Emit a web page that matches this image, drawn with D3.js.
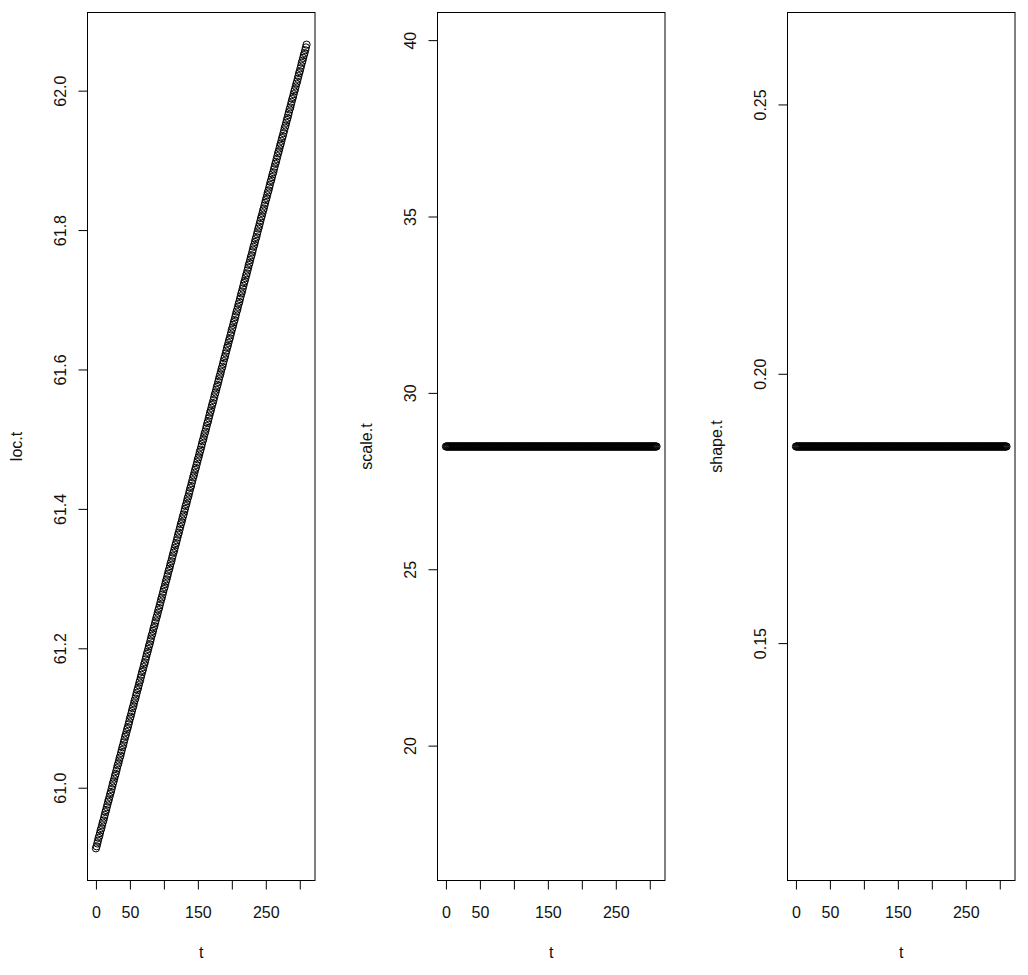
<!DOCTYPE html>
<html>
<head>
<meta charset="utf-8">
<script src="https://cdn.jsdelivr.net/npm/d3@7/dist/d3.min.js"></script>
<style>
  body { margin: 0; background: #fff; }
  svg text { font-family: "Liberation Sans", Arial, sans-serif; fill: #111; }
</style>
</head>
<body>
<div id="chart"></div>
<script>
// time index
const tValues = [
  0, 1, 2, 3, 4, 5, 6, 7, 8, 9,
  10, 11, 12, 13, 14, 15, 16, 17, 18, 19,
  20, 21, 22, 23, 24, 25, 26, 27, 28, 29,
  30, 31, 32, 33, 34, 35, 36, 37, 38, 39,
  40, 41, 42, 43, 44, 45, 46, 47, 48, 49,
  50, 51, 52, 53, 54, 55, 56, 57, 58, 59,
  60, 61, 62, 63, 64, 65, 66, 67, 68, 69,
  70, 71, 72, 73, 74, 75, 76, 77, 78, 79,
  80, 81, 82, 83, 84, 85, 86, 87, 88, 89,
  90, 91, 92, 93, 94, 95, 96, 97, 98, 99,
  100, 101, 102, 103, 104, 105, 106, 107, 108, 109,
  110, 111, 112, 113, 114, 115, 116, 117, 118, 119,
  120, 121, 122, 123, 124, 125, 126, 127, 128, 129,
  130, 131, 132, 133, 134, 135, 136, 137, 138, 139,
  140, 141, 142, 143, 144, 145, 146, 147, 148, 149,
  150, 151, 152, 153, 154, 155, 156, 157, 158, 159,
  160, 161, 162, 163, 164, 165, 166, 167, 168, 169,
  170, 171, 172, 173, 174, 175, 176, 177, 178, 179,
  180, 181, 182, 183, 184, 185, 186, 187, 188, 189,
  190, 191, 192, 193, 194, 195, 196, 197, 198, 199,
  200, 201, 202, 203, 204, 205, 206, 207, 208, 209,
  210, 211, 212, 213, 214, 215, 216, 217, 218, 219,
  220, 221, 222, 223, 224, 225, 226, 227, 228, 229,
  230, 231, 232, 233, 234, 235, 236, 237, 238, 239,
  240, 241, 242, 243, 244, 245, 246, 247, 248, 249,
  250, 251, 252, 253, 254, 255, 256, 257, 258, 259,
  260, 261, 262, 263, 264, 265, 266, 267, 268, 269,
  270, 271, 272, 273, 274, 275, 276, 277, 278, 279,
  280, 281, 282, 283, 284, 285, 286, 287, 288, 289,
  290, 291, 292, 293, 294, 295, 296, 297, 298, 299,
  300, 301, 302, 303, 304, 305, 306, 307, 308, 309,
  310
];

const locT = [
  60.913, 60.916, 60.920, 60.924, 60.928, 60.931, 60.935, 60.939, 60.942, 60.946,
  60.950, 60.953, 60.957, 60.961, 60.965, 60.968, 60.972, 60.976, 60.980, 60.983,
  60.987, 60.991, 60.994, 60.998, 61.002, 61.006, 61.009, 61.013, 61.017, 61.020,
  61.024, 61.028, 61.032, 61.035, 61.039, 61.043, 61.046, 61.050, 61.054, 61.058,
  61.061, 61.065, 61.069, 61.073, 61.076, 61.080, 61.084, 61.087, 61.091, 61.095,
  61.099, 61.102, 61.106, 61.110, 61.114, 61.117, 61.121, 61.125, 61.128, 61.132,
  61.136, 61.140, 61.143, 61.147, 61.151, 61.154, 61.158, 61.162, 61.166, 61.169,
  61.173, 61.177, 61.180, 61.184, 61.188, 61.192, 61.195, 61.199, 61.203, 61.206,
  61.210, 61.214, 61.218, 61.221, 61.225, 61.229, 61.232, 61.236, 61.240, 61.244,
  61.247, 61.251, 61.255, 61.258, 61.262, 61.266, 61.270, 61.273, 61.277, 61.281,
  61.285, 61.288, 61.292, 61.296, 61.299, 61.303, 61.307, 61.311, 61.314, 61.318,
  61.322, 61.325, 61.329, 61.333, 61.337, 61.340, 61.344, 61.348, 61.351, 61.355,
  61.359, 61.363, 61.366, 61.370, 61.374, 61.378, 61.381, 61.385, 61.389, 61.392,
  61.396, 61.400, 61.404, 61.407, 61.411, 61.415, 61.418, 61.422, 61.426, 61.430,
  61.433, 61.437, 61.441, 61.445, 61.448, 61.452, 61.456, 61.459, 61.463, 61.467,
  61.471, 61.474, 61.478, 61.482, 61.485, 61.489, 61.493, 61.497, 61.500, 61.504,
  61.508, 61.511, 61.515, 61.519, 61.523, 61.526, 61.530, 61.534, 61.538, 61.541,
  61.545, 61.549, 61.552, 61.556, 61.560, 61.564, 61.567, 61.571, 61.575, 61.578,
  61.582, 61.586, 61.590, 61.593, 61.597, 61.601, 61.604, 61.608, 61.612, 61.616,
  61.619, 61.623, 61.627, 61.631, 61.634, 61.638, 61.642, 61.645, 61.649, 61.653,
  61.657, 61.660, 61.664, 61.668, 61.671, 61.675, 61.679, 61.683, 61.686, 61.690,
  61.694, 61.697, 61.701, 61.705, 61.709, 61.712, 61.716, 61.720, 61.724, 61.727,
  61.731, 61.735, 61.738, 61.742, 61.746, 61.750, 61.753, 61.757, 61.761, 61.764,
  61.768, 61.772, 61.776, 61.779, 61.783, 61.787, 61.790, 61.794, 61.798, 61.802,
  61.805, 61.809, 61.813, 61.817, 61.820, 61.824, 61.828, 61.831, 61.835, 61.839,
  61.843, 61.846, 61.850, 61.854, 61.857, 61.861, 61.865, 61.869, 61.872, 61.876,
  61.880, 61.883, 61.887, 61.891, 61.895, 61.898, 61.902, 61.906, 61.910, 61.913,
  61.917, 61.921, 61.924, 61.928, 61.932, 61.935, 61.939, 61.943, 61.947, 61.950,
  61.954, 61.958, 61.961, 61.965, 61.969, 61.973, 61.976, 61.980, 61.984, 61.988,
  61.991, 61.995, 61.999, 62.002, 62.006, 62.010, 62.013, 62.017, 62.021, 62.025,
  62.028, 62.032, 62.036, 62.040, 62.043, 62.047, 62.051, 62.054, 62.058, 62.062,
  62.066
];

// scale parameter (flat in panel 2)
const scaleT = [
  28.48, 28.48, 28.48, 28.48, 28.48, 28.48, 28.48, 28.48, 28.48, 28.48,
  28.48, 28.48, 28.48, 28.48, 28.48, 28.48, 28.48, 28.48, 28.48, 28.48,
  28.48, 28.48, 28.48, 28.48, 28.48, 28.48, 28.48, 28.48, 28.48, 28.48,
  28.48, 28.48, 28.48, 28.48, 28.48, 28.48, 28.48, 28.48, 28.48, 28.48,
  28.48, 28.48, 28.48, 28.48, 28.48, 28.48, 28.48, 28.48, 28.48, 28.48,
  28.48, 28.48, 28.48, 28.48, 28.48, 28.48, 28.48, 28.48, 28.48, 28.48,
  28.48, 28.48, 28.48, 28.48, 28.48, 28.48, 28.48, 28.48, 28.48, 28.48,
  28.48, 28.48, 28.48, 28.48, 28.48, 28.48, 28.48, 28.48, 28.48, 28.48,
  28.48, 28.48, 28.48, 28.48, 28.48, 28.48, 28.48, 28.48, 28.48, 28.48,
  28.48, 28.48, 28.48, 28.48, 28.48, 28.48, 28.48, 28.48, 28.48, 28.48,
  28.48, 28.48, 28.48, 28.48, 28.48, 28.48, 28.48, 28.48, 28.48, 28.48,
  28.48, 28.48, 28.48, 28.48, 28.48, 28.48, 28.48, 28.48, 28.48, 28.48,
  28.48, 28.48, 28.48, 28.48, 28.48, 28.48, 28.48, 28.48, 28.48, 28.48,
  28.48, 28.48, 28.48, 28.48, 28.48, 28.48, 28.48, 28.48, 28.48, 28.48,
  28.48, 28.48, 28.48, 28.48, 28.48, 28.48, 28.48, 28.48, 28.48, 28.48,
  28.48, 28.48, 28.48, 28.48, 28.48, 28.48, 28.48, 28.48, 28.48, 28.48,
  28.48, 28.48, 28.48, 28.48, 28.48, 28.48, 28.48, 28.48, 28.48, 28.48,
  28.48, 28.48, 28.48, 28.48, 28.48, 28.48, 28.48, 28.48, 28.48, 28.48,
  28.48, 28.48, 28.48, 28.48, 28.48, 28.48, 28.48, 28.48, 28.48, 28.48,
  28.48, 28.48, 28.48, 28.48, 28.48, 28.48, 28.48, 28.48, 28.48, 28.48,
  28.48, 28.48, 28.48, 28.48, 28.48, 28.48, 28.48, 28.48, 28.48, 28.48,
  28.48, 28.48, 28.48, 28.48, 28.48, 28.48, 28.48, 28.48, 28.48, 28.48,
  28.48, 28.48, 28.48, 28.48, 28.48, 28.48, 28.48, 28.48, 28.48, 28.48,
  28.48, 28.48, 28.48, 28.48, 28.48, 28.48, 28.48, 28.48, 28.48, 28.48,
  28.48, 28.48, 28.48, 28.48, 28.48, 28.48, 28.48, 28.48, 28.48, 28.48,
  28.48, 28.48, 28.48, 28.48, 28.48, 28.48, 28.48, 28.48, 28.48, 28.48,
  28.48, 28.48, 28.48, 28.48, 28.48, 28.48, 28.48, 28.48, 28.48, 28.48,
  28.48, 28.48, 28.48, 28.48, 28.48, 28.48, 28.48, 28.48, 28.48, 28.48,
  28.48, 28.48, 28.48, 28.48, 28.48, 28.48, 28.48, 28.48, 28.48, 28.48,
  28.48, 28.48, 28.48, 28.48, 28.48, 28.48, 28.48, 28.48, 28.48, 28.48,
  28.48, 28.48, 28.48, 28.48, 28.48, 28.48, 28.48, 28.48, 28.48, 28.48,
  28.48
];

// shape parameter (flat in panel 3)
const shapeT = [
  0.1865, 0.1865, 0.1865, 0.1865, 0.1865, 0.1865, 0.1865, 0.1865, 0.1865, 0.1865,
  0.1865, 0.1865, 0.1865, 0.1865, 0.1865, 0.1865, 0.1865, 0.1865, 0.1865, 0.1865,
  0.1865, 0.1865, 0.1865, 0.1865, 0.1865, 0.1865, 0.1865, 0.1865, 0.1865, 0.1865,
  0.1865, 0.1865, 0.1865, 0.1865, 0.1865, 0.1865, 0.1865, 0.1865, 0.1865, 0.1865,
  0.1865, 0.1865, 0.1865, 0.1865, 0.1865, 0.1865, 0.1865, 0.1865, 0.1865, 0.1865,
  0.1865, 0.1865, 0.1865, 0.1865, 0.1865, 0.1865, 0.1865, 0.1865, 0.1865, 0.1865,
  0.1865, 0.1865, 0.1865, 0.1865, 0.1865, 0.1865, 0.1865, 0.1865, 0.1865, 0.1865,
  0.1865, 0.1865, 0.1865, 0.1865, 0.1865, 0.1865, 0.1865, 0.1865, 0.1865, 0.1865,
  0.1865, 0.1865, 0.1865, 0.1865, 0.1865, 0.1865, 0.1865, 0.1865, 0.1865, 0.1865,
  0.1865, 0.1865, 0.1865, 0.1865, 0.1865, 0.1865, 0.1865, 0.1865, 0.1865, 0.1865,
  0.1865, 0.1865, 0.1865, 0.1865, 0.1865, 0.1865, 0.1865, 0.1865, 0.1865, 0.1865,
  0.1865, 0.1865, 0.1865, 0.1865, 0.1865, 0.1865, 0.1865, 0.1865, 0.1865, 0.1865,
  0.1865, 0.1865, 0.1865, 0.1865, 0.1865, 0.1865, 0.1865, 0.1865, 0.1865, 0.1865,
  0.1865, 0.1865, 0.1865, 0.1865, 0.1865, 0.1865, 0.1865, 0.1865, 0.1865, 0.1865,
  0.1865, 0.1865, 0.1865, 0.1865, 0.1865, 0.1865, 0.1865, 0.1865, 0.1865, 0.1865,
  0.1865, 0.1865, 0.1865, 0.1865, 0.1865, 0.1865, 0.1865, 0.1865, 0.1865, 0.1865,
  0.1865, 0.1865, 0.1865, 0.1865, 0.1865, 0.1865, 0.1865, 0.1865, 0.1865, 0.1865,
  0.1865, 0.1865, 0.1865, 0.1865, 0.1865, 0.1865, 0.1865, 0.1865, 0.1865, 0.1865,
  0.1865, 0.1865, 0.1865, 0.1865, 0.1865, 0.1865, 0.1865, 0.1865, 0.1865, 0.1865,
  0.1865, 0.1865, 0.1865, 0.1865, 0.1865, 0.1865, 0.1865, 0.1865, 0.1865, 0.1865,
  0.1865, 0.1865, 0.1865, 0.1865, 0.1865, 0.1865, 0.1865, 0.1865, 0.1865, 0.1865,
  0.1865, 0.1865, 0.1865, 0.1865, 0.1865, 0.1865, 0.1865, 0.1865, 0.1865, 0.1865,
  0.1865, 0.1865, 0.1865, 0.1865, 0.1865, 0.1865, 0.1865, 0.1865, 0.1865, 0.1865,
  0.1865, 0.1865, 0.1865, 0.1865, 0.1865, 0.1865, 0.1865, 0.1865, 0.1865, 0.1865,
  0.1865, 0.1865, 0.1865, 0.1865, 0.1865, 0.1865, 0.1865, 0.1865, 0.1865, 0.1865,
  0.1865, 0.1865, 0.1865, 0.1865, 0.1865, 0.1865, 0.1865, 0.1865, 0.1865, 0.1865,
  0.1865, 0.1865, 0.1865, 0.1865, 0.1865, 0.1865, 0.1865, 0.1865, 0.1865, 0.1865,
  0.1865, 0.1865, 0.1865, 0.1865, 0.1865, 0.1865, 0.1865, 0.1865, 0.1865, 0.1865,
  0.1865, 0.1865, 0.1865, 0.1865, 0.1865, 0.1865, 0.1865, 0.1865, 0.1865, 0.1865,
  0.1865, 0.1865, 0.1865, 0.1865, 0.1865, 0.1865, 0.1865, 0.1865, 0.1865, 0.1865,
  0.1865, 0.1865, 0.1865, 0.1865, 0.1865, 0.1865, 0.1865, 0.1865, 0.1865, 0.1865,
  0.1865
];

// axis ticks
const xTicks = [0, 50, 100, 150, 200, 250, 300];
const xTickLabels = ['0', '50', '', '150', '', '250', ''];
const locTicks = [61.0, 61.2, 61.4, 61.6, 61.8, 62.0];
const scaleTicks = [20, 25, 30, 35, 40];
const shapeTicks = [0.15, 0.20, 0.25];

const panels = [
  { name: 'loc.t', values: locT, ticks: locTicks, fmt: d3.format('.1f') },
  { name: 'scale.t', values: scaleT, ticks: scaleTicks, fmt: d3.format('d') },
  { name: 'shape.t', values: shapeT, ticks: shapeTicks, fmt: d3.format('.2f') }
];

// R style axis range: 4% padding, constant data widened by 40%
function rDomain(vals) {
  let [lo, hi] = d3.extent(vals);
  if (lo === hi) {
    const d = lo === 0 ? 1 : 0.4 * Math.abs(lo);
    lo -= d; hi += d;
  }
  const pad = (hi - lo) * 0.04;
  return [lo - pad, hi + pad];
}

const W = 1028, H = 975;
const boxLefts = [87.5, 437.5, 787.5];
const boxTop = 12.5;
const boxW = 227.5;
const boxH = 868;

const svg = d3.select('#chart').append('svg')
  .attr('width', W)
  .attr('height', H)
  .style('background', '#fff');

const x = d3.scaleLinear().domain(rDomain(tValues)).range([0, boxW]);

panels.forEach((p, i) => {
  const g = svg.append('g')
    .attr('transform', `translate(${boxLefts[i]},${boxTop})`);

  const y = d3.scaleLinear().domain(rDomain(p.values)).range([boxH, 0]);

  // points (open circles)
  g.append('g')
    .selectAll('circle')
    .data(tValues)
    .enter()
    .append('circle')
    .attr('cx', d => x(d))
    .attr('cy', (d, j) => y(p.values[j]))
    .attr('r', 3.6)
    .style('fill', 'none')
    .style('stroke', '#000')
    .style('stroke-width', 1);

  // box
  g.append('rect')
    .attr('x', 0)
    .attr('y', 0)
    .attr('width', boxW)
    .attr('height', boxH)
    .style('fill', 'none')
    .style('stroke', '#000')
    .style('stroke-width', 1);

  // x axis
  const xa = g.append('g')
    .attr('transform', `translate(0,${boxH})`)
    .call(d3.axisBottom(x).tickValues(xTicks).tickSize(9)
      .tickFormat((d, k) => xTickLabels[k]));
  xa.select('.domain').remove();
  xa.selectAll('.tick line').style('stroke', '#000');
  xa.selectAll('text')
    .attr('y', 37)
    .attr('dy', 0)
    .style('font-size', '16px');

  // y axis, labels rotated like R
  const ya = g.append('g')
    .call(d3.axisLeft(y).tickValues(p.ticks).tickSize(9).tickFormat(p.fmt));
  ya.select('.domain').remove();
  ya.selectAll('.tick line').style('stroke', '#000');
  ya.selectAll('text')
    .attr('transform', 'rotate(-90)')
    .attr('x', 0)
    .attr('y', -22)
    .attr('dy', 0)
    .attr('text-anchor', 'middle')
    .style('font-size', '16px');

  // axis titles
  g.append('text')
    .attr('x', boxW / 2)
    .attr('y', boxH + 77)
    .attr('text-anchor', 'middle')
    .style('font-size', '16px')
    .text('t');

  g.append('text')
    .attr('transform', `translate(-66,${boxH / 2}) rotate(-90)`)
    .attr('text-anchor', 'middle')
    .style('font-size', '16px')
    .text(p.name);
});
</script>
</body>
</html>
